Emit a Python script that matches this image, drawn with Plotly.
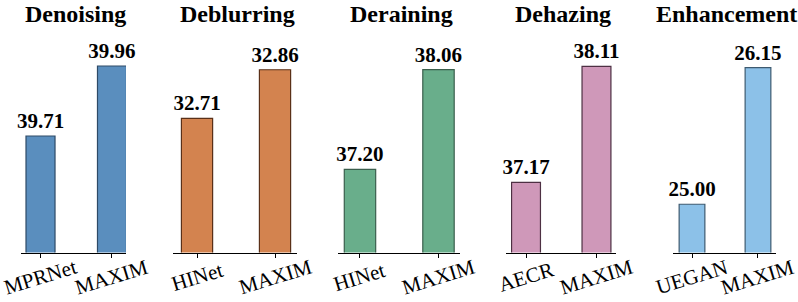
import plotly.graph_objects as go

# ---- data ----
tasks = ["Denoising", "Deblurring", "Deraining", "Dehazing", "Enhancement"]
baseline_methods = ["MPRNet", "HINet", "HINet", "AECR", "UEGAN"]
maxim_name = "MAXIM"
baseline_psnr = [39.71, 32.71, 37.20, 37.17, 25.00]
maxim_psnr = [39.96, 32.86, 38.06, 38.11, 26.15]
value_labels_base = ["39.71", "32.71", "37.20", "37.17", "25.00"]
value_labels_maxim = ["39.96", "32.86", "38.06", "38.11", "26.15"]

# ---- style ----
fill_colors = ["#5a8ebe", "#d3834f", "#69ae8b", "#cf98b9", "#8cc1e8"]
edge_colors = ["#2e4a66", "#5a3018", "#3a5e4c", "#4d3043", "#3d5a70"]

W, H = 798, 302
base_px = 252.5
top_px = 30.0
plot_h = base_px - top_px

# pixel extents of each panel's axis line
x_domains_px = [(21, 126), (173, 297), (338, 460), (506, 616), (673, 776)]
x_ranges = [(-0.273, 1.196), (-0.308, 1.282), (-0.28, 1.274), (-0.284, 1.277), (-0.288, 1.273)]
bar_widths = [0.406, 0.40, 0.40, 0.41, 0.39]
# lower y bound of each panel and pixels per unit
y_lows = [39.294, 32.296, 36.4815, 36.601, 24.594]
px_per_unit = [280.0, 324.0, 115.8, 123.4, 118.8]

serif = '"Liberation Serif", "Times New Roman", Times, "DejaVu Serif", serif'

fig = go.Figure()
layout = dict(
    width=W, height=H,
    margin=dict(l=0, r=0, t=0, b=0),
    paper_bgcolor="white", plot_bgcolor="white",
    showlegend=False,
    font=dict(family=serif, color="black"),
)
annotations = []
ydom = [(H - base_px) / H, (H - top_px) / H]

for i in range(5):
    sx = "" if i == 0 else str(i + 1)
    xa, ya = "x" + sx, "y" + sx
    cats = [baseline_methods[i], maxim_name]
    vals = [baseline_psnr[i], maxim_psnr[i]]
    texts = ["<b>" + value_labels_base[i] + "</b>", "<b>" + value_labels_maxim[i] + "</b>"]
    fig.add_trace(go.Bar(
        x=cats, y=vals, xaxis=xa, yaxis=ya,
        width=bar_widths[i],
        marker=dict(color=fill_colors[i], line=dict(color=edge_colors[i], width=1.2)),
        text=texts, textposition="outside", cliponaxis=False,
        constraintext="none",
        textfont=dict(family=serif, size=21, color="black"),
        hoverinfo="skip",
    ))
    d0, d1 = x_domains_px[i]
    lo = y_lows[i]
    hi = lo + plot_h / px_per_unit[i]
    layout["xaxis" + sx] = dict(
        domain=[d0 / W, d1 / W], anchor=ya, type="category",
        categoryorder="array", categoryarray=cats,
        range=list(x_ranges[i]),
        showline=True, linecolor="black", linewidth=1.3,
        ticks="outside", ticklen=4, tickcolor="black", tickwidth=1,
        showticklabels=False, showgrid=False, zeroline=False, fixedrange=True,
    )
    layout["yaxis" + sx] = dict(
        domain=ydom, anchor=xa, range=[lo, hi],
        showline=False, showticklabels=False, ticks="", showgrid=False,
        zeroline=False, fixedrange=True,
    )
    # task title
    annotations.append(dict(
        text="<b>" + tasks[i] + "</b>", xref="paper", yref="paper",
        x=((d0 + d1) / 2 + 2) / W, y=(H - 14) / H,
        xanchor="center", yanchor="middle", showarrow=False,
        font=dict(family=serif, size=24, color="black"),
    ))
    # rotated tick labels centred under each bar
    for c in cats:
        annotations.append(dict(
            text=c, xref=xa, yref="paper", x=c, y=(H - 277) / H,
            xanchor="center", yanchor="middle", showarrow=False,
            borderpad=0,
            textangle=-17, font=dict(family=serif, size=21, color="black"),
        ))

layout["annotations"] = annotations
fig.update_layout(**layout)
fig.write_html(
    "out.html",
    config={"displayModeBar": False, "staticPlot": True},
    post_script="document.body.style.margin='0';document.body.style.overflow='hidden';",
)
